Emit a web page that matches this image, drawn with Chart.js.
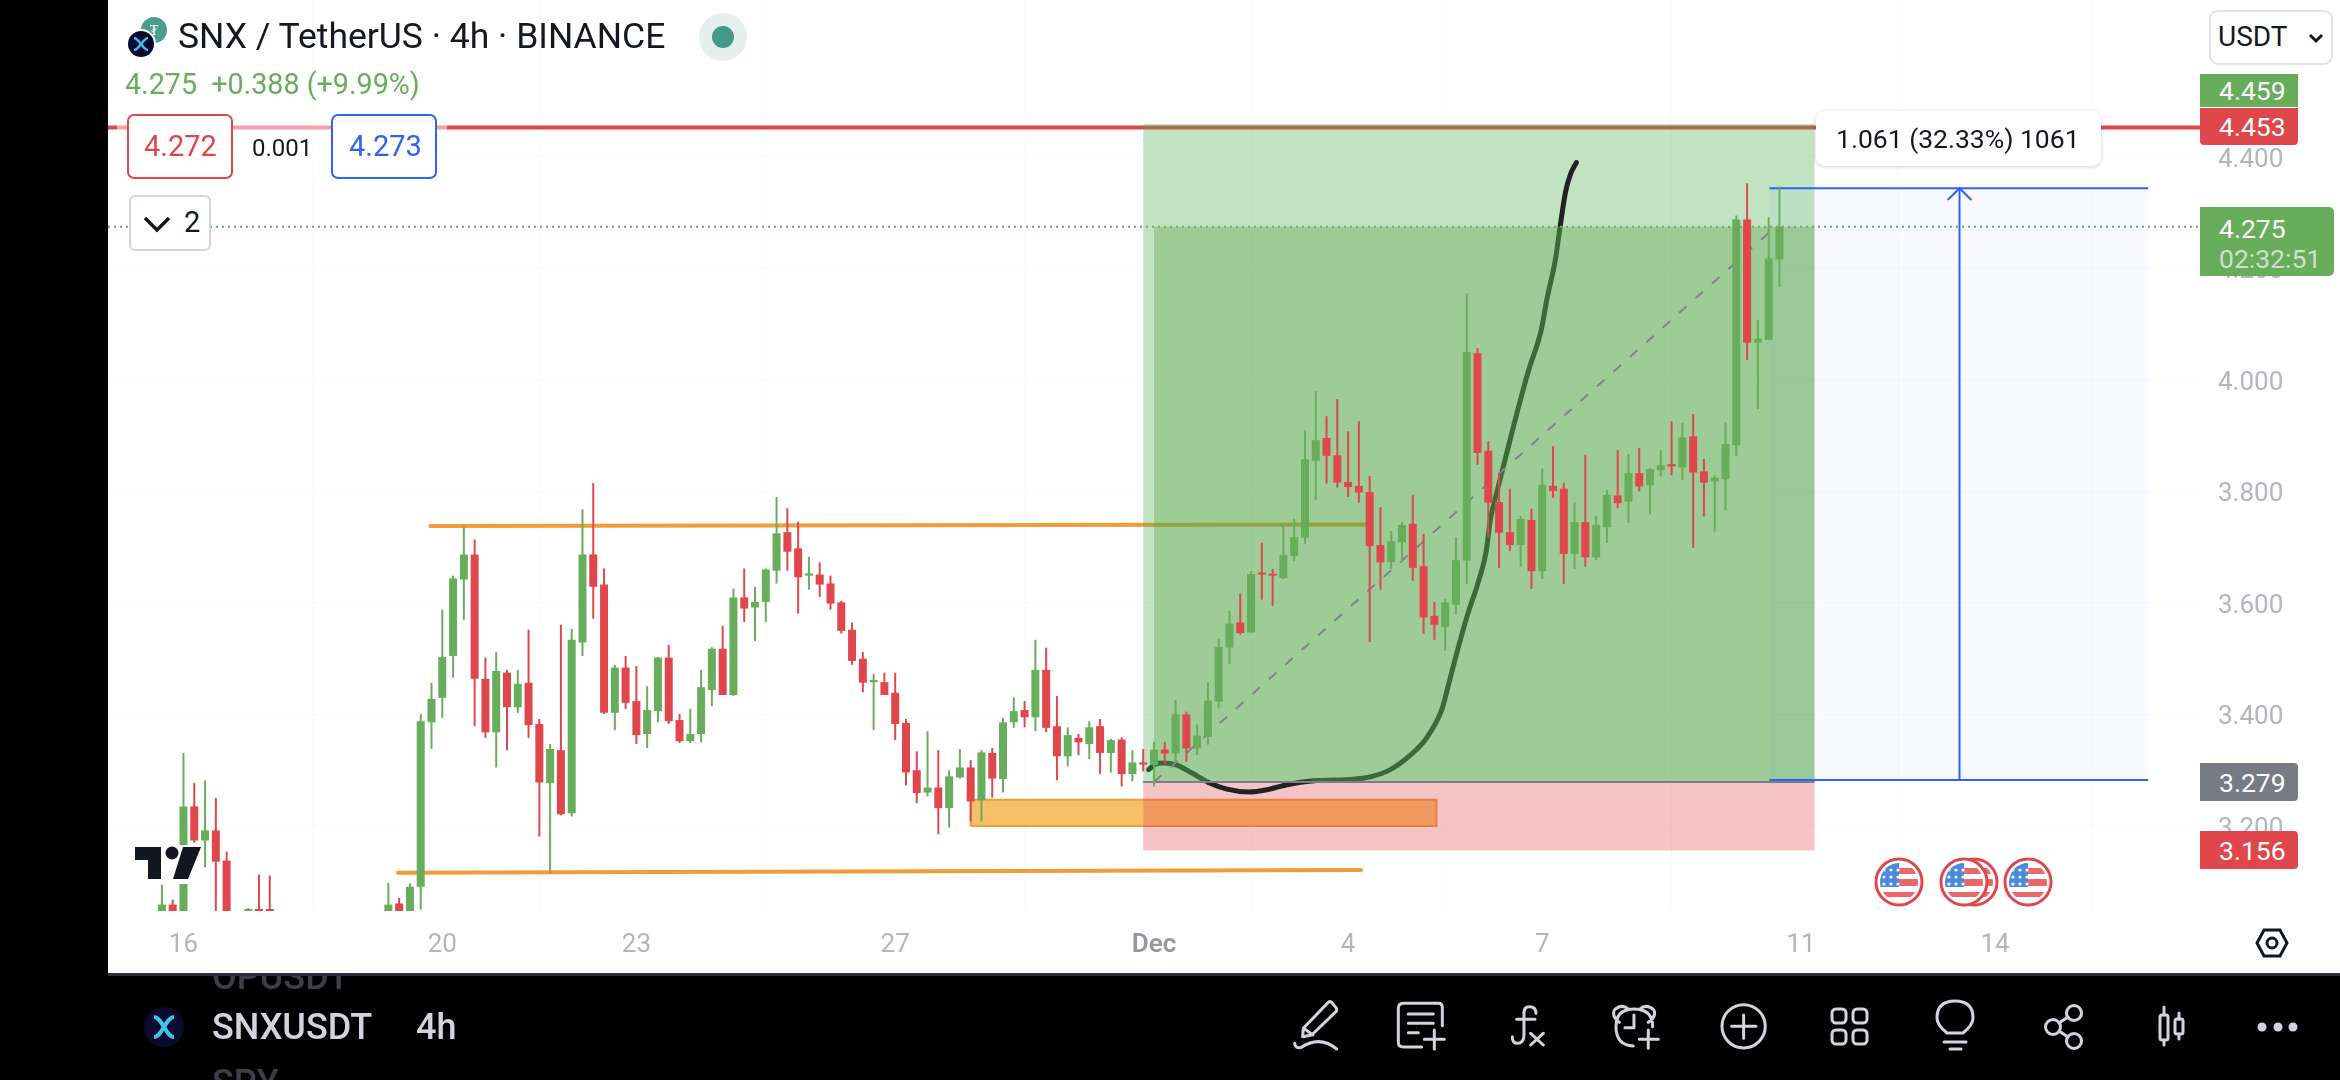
<!DOCTYPE html>
<html>
<head>
<meta charset="utf-8">
<title>SNX / TetherUS 4h</title>
<script src="https://cdn.jsdelivr.net/npm/chart.js@4"></script>
<style>
  html, body { margin: 0; padding: 0; background: #000; }
  body { position: relative; width: 2340px; height: 1080px; overflow: hidden; font-family: Roboto, sans-serif; }
  #pane { position: absolute; left: 108px; top: 0; width: 2232px; height: 973px; background: #fff; }
  #chart { position: absolute; left: 108px; top: 0; }
  #rule { position: absolute; left: 108px; top: 973px; width: 2232px; height: 3px; background: #2a2e39; }
  .t { position: absolute; white-space: nowrap; line-height: 1; }
  .box { position: absolute; box-sizing: border-box; background: #fff; }
  .tag { position: absolute; left: 2200px; width: 98px; box-sizing: border-box; color: #fff; font-size: 26.5px; padding-left: 19px; display: flex; align-items: center; }
  svg { position: absolute; overflow: visible; }
  #ghost { position: absolute; left: 0; top: 976px; width: 2340px; height: 104px; overflow: hidden; }
  .tool { fill: none; stroke: #d1d4dc; stroke-width: 3; stroke-linecap: round; stroke-linejoin: round; }
</style>
</head>
<body>
<div id="pane"></div>
<canvas id="chart" width="2232" height="973"></canvas>
<div id="rule"></div>

<!-- header -->
<svg style="left:0;top:0" width="760" height="70">
  <circle cx="154" cy="30" r="13" fill="#4b9e8e"/>
  <text x="154" y="35" font-size="14" font-family="Roboto" fill="#fff" text-anchor="middle">₮</text>
  <circle cx="141" cy="44" r="15" fill="#fff"/>
  <circle cx="141" cy="44" r="13" fill="#0a0b2e"/>
  <path d="M134 38 C139 38 143 50 148 50 M134 50 C139 50 143 38 148 38" fill="none" stroke="#3fc4e6" stroke-width="2.5"/>
  <circle cx="723" cy="37" r="24" fill="#e5efed"/>
  <circle cx="723" cy="37" r="11" fill="#439a8a"/>
</svg>
<div class="t" style="left:178px;top:19px;font-size:35.5px;color:#131722">SNX / TetherUS · 4h · BINANCE</div>
<div class="t" style="left:125px;top:70px;font-size:28.7px;color:#68ad5c">4.275&nbsp; +0.388 (+9.99%)</div>

<div class="box" style="left:117px;top:114px;width:330px;height:65px;background:rgba(255,255,255,.5)"></div>
<div class="box" style="left:127px;top:114px;width:106px;height:65px;border:2px solid #e0474c;border-radius:7px"></div>
<div class="t" style="left:144px;top:132px;font-size:29px;color:#e0474c">4.272</div>
<div class="t" style="left:252px;top:136px;font-size:24px;color:#131722">0.001</div>
<div class="box" style="left:331px;top:114px;width:106px;height:65px;border:2px solid #2f62f5;border-radius:7px"></div>
<div class="t" style="left:349px;top:132px;font-size:29px;color:#2f62f5">4.273</div>

<div class="box" style="left:129px;top:195px;width:82px;height:56px;border:2px solid #d1d4dc;border-radius:6px"></div>
<svg style="left:0;top:0" width="200" height="260"><path d="M145 218 L157 230 L169 218" fill="none" stroke="#131722" stroke-width="3.5"/></svg>
<div class="t" style="left:184px;top:208px;font-size:29px;color:#131722">2</div>

<div class="box" style="left:2209px;top:10px;width:124px;height:55px;border:2px solid #e0e3eb;border-radius:9px"></div>
<div class="t" style="left:2218px;top:23px;font-size:28px;color:#131722">USDT</div>
<svg style="left:2300px;top:0" width="40" height="60"><path d="M10 35 L16 41 L22 35" fill="none" stroke="#131722" stroke-width="3"/></svg>

<!-- measure label -->
<div class="box" style="left:1816px;top:111px;width:285px;height:55px;border-radius:9px;box-shadow:0 1px 4px rgba(0,0,0,.18)"></div>
<div class="t" style="left:1836px;top:126px;font-size:26.5px;color:#131722">1.061 (32.33%) 1061</div>

<!-- price tags -->
<div class="tag" style="top:74px;height:33px;background:#68ad5c">4.459</div>
<div class="tag" style="top:108px;height:37px;background:#e0474c;border-radius:0 0 4px 4px">4.453</div>
<div class="tag" style="top:207px;height:69px;width:134px;background:#68ad5c;border-radius:0 5px 5px 0;display:block;padding-top:6px">
  4.275<div style="color:rgba(255,255,255,.68);margin-top:-1px">02:32:51</div>
</div>
<div class="tag" style="top:763px;height:38px;background:#787b86;border-radius:0 4px 4px 0">3.279</div>
<div class="tag" style="top:831px;height:38px;background:#e0474c;border-radius:0 4px 4px 0">3.156</div>

<!-- logo -->
<div class="box" style="left:132px;top:845px;width:71px;height:39px;border-radius:8px"></div>
<svg style="left:0;top:0" width="220" height="900">
  <path d="M135 847 H161 V879 H148 V860 H135 Z" fill="#131722"/>
  <circle cx="172" cy="853" r="6.5" fill="#131722"/>
  <path d="M183 847 H201 L188 879 H173 Z" fill="#131722"/>
</svg>

<!-- event flags -->
<svg id="flags" style="left:0;top:0" width="2340" height="973"></svg>

<!-- settings hexagon -->
<svg style="left:2250px;top:925px" width="44" height="36">
  <path d="M7 18 L14 5 H30 L37 18 L30 31 H14 Z" fill="none" stroke="#131722" stroke-width="3"/>
  <circle cx="22" cy="18" r="5" fill="none" stroke="#131722" stroke-width="3"/>
</svg>

<!-- bottom bar -->
<div id="ghost">
  <div class="t" style="left:212px;top:-17px;font-size:36px;font-weight:500;color:#3c3f47">OPUSDT</div>
  <div class="t" style="left:212px;top:89px;font-size:36px;font-weight:500;color:#3c3f47">SPY</div>
</div>
<svg style="left:140px;top:1003px" width="50" height="50">
  <circle cx="24" cy="24" r="20" fill="#0a0b2e"/>
  <path d="M14 14 C22 14 26 34 34 34 M14 34 C22 34 26 14 34 14" fill="none" stroke="#3fc4e6" stroke-width="4"/>
</svg>
<div class="t" style="left:212px;top:1009px;font-size:36px;font-weight:500;color:#d1d4dc">SNXUSDT</div>
<div class="t" style="left:416px;top:1009px;font-size:36px;font-weight:500;color:#d1d4dc">4h</div>

<svg style="left:0;top:985px" width="2340" height="95" class="tool">
  <g transform="translate(1280 0) scale(0.3333)" stroke-width="9">
    <!-- pencil -->
    <path d="M70 130 L145 52 Q150 48 155 52 L168 68 Q172 74 168 80 L95 150 L68 155 Z M72 130 L98 150"/>
    <path d="M44 175 Q45 190 62 188 Q120 150 170 192"/>
    <!-- note -->
    <path d="M355 70 Q355 55 370 55 H475 Q487 55 487 68 V122 M355 70 V172 Q355 186 370 186 H425 M385 87 H460 M385 115 H460 M385 143 H415 M463 135 V192 M433 163 H493"/>
    <!-- fx -->
    <path d="M768 85 Q768 65 748 65 Q732 65 732 85 V150 Q732 175 712 175 Q697 175 697 155 M710 103 H765 M752 145 L790 180 M790 145 L752 180"/>
    <!-- alarm -->
    <path d="M1060 183 Q1008 180 1008 125 Q1008 72 1062 72 Q1118 72 1118 125 M1062 90 V128 H1035 M1018 112 Q995 95 1003 75 Q1025 55 1045 72 M1105 112 Q1130 95 1122 75 Q1100 55 1080 72 M1105 135 V190 M1078 163 H1135"/>
    <!-- plus -->
    <circle cx="1391" cy="124" r="65"/><path d="M1391 90 V160 M1355 124 H1428"/>
  </g>
  <!-- grid -->
  <rect x="1832" y="24" width="14" height="14" rx="4"/><rect x="1853" y="24" width="14" height="14" rx="4"/>
  <rect x="1832" y="45" width="14" height="14" rx="4"/><rect x="1853" y="45" width="14" height="14" rx="4"/>
  <!-- bulb -->
  <path d="M1947 48 Q1937 40 1937 33 Q1937 16 1955 16 Q1973 16 1973 33 Q1973 40 1963 48 Z M1944 57 H1966 M1950 64 H1961"/>
  <!-- share -->
  <circle cx="2074" cy="28" r="7.5"/><circle cx="2053" cy="42" r="7.5"/><circle cx="2074" cy="56" r="7.5"/><path d="M2059 38 L2068 32 M2059 46 L2068 52"/>
  <!-- candles -->
  <rect x="2160" y="30" width="8" height="25" rx="2"/><path d="M2164 22 V30 M2164 55 V60"/>
  <rect x="2175" y="34" width="8" height="15" rx="2"/><path d="M2179 28 V34 M2179 49 V54"/>
</svg>
<svg style="left:2250px;top:1015px" width="60" height="24">
  <circle cx="12" cy="12" r="4.5" fill="#d1d4dc"/><circle cx="28" cy="12" r="4.5" fill="#d1d4dc"/><circle cx="43" cy="12" r="4.5" fill="#d1d4dc"/>
</svg>

<script>
// SNX/USDT 4h candles. null = candle below the visible pane
const opens = [
  3.04, 3.059, 3.04, 3.235, 3.174, 3.192, 3.138, null, 3.04, 3.042,
  3.042, null, null, null, null, null, null, null, null, null,
  null, 3.04, 3.061, 3.04, 3.091, 3.386, 3.430, 3.505, 3.642, 3.687,
  3.464, 3.368, 3.475, 3.413, 3.457, 3.383, 3.277, 3.336, 3.223, 3.529,
  3.687, 3.633, 3.403, 3.484, 3.424, 3.365, 3.406, 3.502, 3.390, 3.352,
  3.365, 3.444, 3.518, 3.435, 3.610, 3.592, 3.602, 3.658, 3.727, 3.698,
  3.649, 3.651, 3.635, 3.601, 3.552, 3.500, 3.458, 3.458, 3.439, 3.385,
  3.300, 3.260, 3.269, 3.232, 3.287, 3.305, 3.246, 3.331, 3.284, 3.386,
  3.408, 3.395, 3.480, 3.379, 3.325, 3.358, 3.347, 3.379, 3.331, 3.355,
  3.293, 3.314, 3.309, 3.337, 3.330, 3.400, 3.339, 3.360, 3.423, 3.520,
  3.565, 3.547, 3.654, 3.652, 3.645, 3.684, 3.717, 3.855, 3.896, 3.865,
  3.817, 3.810, 3.799, 3.704, 3.673, 3.709, 3.742, 3.666, 3.577, 3.557,
  3.597, 3.676, 4.048, 3.873, 3.781, 3.727, 3.704, 3.749, 3.657, 3.810,
  3.805, 3.688, 3.745, 3.682, 3.736, 3.793, 3.782, 3.833, 3.811, 3.838,
  3.849, 3.843, 3.899, 3.836, 3.818, 3.822, 3.883, 4.288, 4.067, 4.072, 4.216,
];
const highs = [
  3.095, 3.068, 3.331, 3.277, 3.282, 3.250, 3.154, null, 3.053, 3.113,
  3.111, null, null, null, null, null, null, null, null, null,
  null, 3.098, 3.071, 3.097, 3.401, 3.457, 3.588, 3.649, 3.737, 3.714,
  3.502, 3.512, 3.480, 3.480, 3.552, 3.392, 3.347, 3.561, 3.554, 3.768,
  3.815, 3.662, 3.489, 3.505, 3.487, 3.451, 3.503, 3.525, 3.401, 3.410,
  3.480, 3.521, 3.559, 3.626, 3.662, 3.629, 3.662, 3.790, 3.770, 3.746,
  3.683, 3.673, 3.649, 3.604, 3.565, 3.512, 3.473, 3.475, 3.475, 3.392,
  3.334, 3.370, 3.336, 3.300, 3.338, 3.318, 3.336, 3.340, 3.394, 3.431,
  3.424, 3.534, 3.520, 3.433, 3.377, 3.365, 3.388, 3.392, 3.356, 3.359,
  3.336, 3.338, 3.351, 3.351, 3.426, 3.405, 3.382, 3.458, 3.535, 3.586,
  3.617, 3.657, 3.708, 3.661, 3.740, 3.751, 3.910, 3.980, 3.935, 3.966,
  3.908, 3.926, 3.828, 3.772, 3.729, 3.745, 3.794, 3.724, 3.602, 3.607,
  3.718, 4.156, 4.057, 3.890, 3.833, 3.805, 3.756, 3.769, 3.841, 3.881,
  3.816, 3.780, 3.866, 3.756, 3.803, 3.874, 3.867, 3.878, 3.842, 3.874,
  3.926, 3.923, 3.939, 3.858, 3.829, 3.924, 4.295, 4.353, 4.108, 4.292, 4.347,
];
const lows = [
  3.04, 3.04, 3.04, 3.170, 3.126, 3.04, 3.04, null, 3.04, 3.04,
  3.04, null, null, null, null, null, null, null, null, null,
  null, 3.04, 3.04, 3.04, 3.050, 3.338, 3.394, 3.466, 3.570, 3.379,
  3.358, 3.305, 3.336, 3.403, 3.358, 3.181, 3.115, 3.219, 3.217, 3.505,
  3.572, 3.401, 3.372, 3.410, 3.347, 3.340, 3.386, 3.383, 3.349, 3.349,
  3.350, 3.415, 3.435, 3.433, 3.566, 3.532, 3.566, 3.635, 3.658, 3.581,
  3.624, 3.611, 3.588, 3.545, 3.489, 3.440, 3.372, 3.435, 3.354, 3.273,
  3.241, 3.253, 3.185, 3.197, 3.285, 3.208, 3.208, 3.251, 3.260, 3.376,
  3.377, 3.370, 3.368, 3.282, 3.307, 3.327, 3.320, 3.293, 3.296, 3.271,
  3.280, 3.298, 3.271, 3.312, 3.314, 3.315, 3.327, 3.346, 3.411, 3.491,
  3.543, 3.547, 3.606, 3.595, 3.643, 3.675, 3.706, 3.785, 3.814, 3.807,
  3.790, 3.780, 3.530, 3.624, 3.661, 3.673, 3.640, 3.545, 3.534, 3.514,
  3.579, 3.634, 3.848, 3.718, 3.663, 3.693, 3.665, 3.625, 3.643, 3.789,
  3.634, 3.661, 3.665, 3.677, 3.708, 3.770, 3.744, 3.800, 3.759, 3.827,
  3.829, 3.820, 3.699, 3.755, 3.728, 3.766, 3.863, 4.036, 3.948, 4.072, 4.167,
];
const closes = [
  3.059, 3.04, 3.235, 3.174, 3.192, 3.136, 3.04, null, 3.042, 3.04,
  3.04, null, null, null, null, null, null, null, null, null,
  null, 3.059, 3.04, 3.091, 3.388, 3.428, 3.503, 3.644, 3.687, 3.464,
  3.368, 3.478, 3.413, 3.455, 3.381, 3.278, 3.338, 3.221, 3.534, 3.687,
  3.629, 3.403, 3.484, 3.421, 3.363, 3.408, 3.502, 3.388, 3.352, 3.365,
  3.449, 3.518, 3.435, 3.610, 3.590, 3.602, 3.660, 3.725, 3.692, 3.646,
  3.653, 3.633, 3.599, 3.550, 3.496, 3.457, 3.462, 3.435, 3.383, 3.296,
  3.259, 3.269, 3.232, 3.289, 3.305, 3.244, 3.332, 3.285, 3.386, 3.406,
  3.395, 3.480, 3.376, 3.325, 3.363, 3.350, 3.377, 3.331, 3.354, 3.293,
  3.314, 3.310, 3.337, 3.330, 3.400, 3.339, 3.362, 3.425, 3.521, 3.563,
  3.546, 3.652, 3.651, 3.649, 3.686, 3.718, 3.858, 3.892, 3.864, 3.816,
  3.808, 3.798, 3.702, 3.673, 3.711, 3.740, 3.663, 3.574, 3.561, 3.601,
  3.677, 4.050, 3.869, 3.780, 3.726, 3.704, 3.751, 3.657, 3.812, 3.801,
  3.688, 3.745, 3.682, 3.740, 3.794, 3.779, 3.833, 3.809, 3.840, 3.847,
  3.845, 3.897, 3.834, 3.816, 3.825, 3.885, 4.288, 4.067, 4.074, 4.218, 4.275,
];

// axis ticks
const xTickValues = [2, 26, 44, 68, 92, 110, 128, 152, 170];
const xTickLabels = ['16', '20', '23', '27', 'Dec', '4', '7', '11', '14'];
const yTickValues = [3.2, 3.4, 3.6, 3.8, 4.0, 4.2, 4.4];

// hand drawn curve
const curveX = [91.5, 92.12, 92.89, 94.13, 95.52, 97.06, 98.76, 100.77, 102.47, 104.33, 106.8, 110.51, 112.06, 113.91, 115.77, 117.32, 118.71, 119.33, 120.1, 121.03, 122.11, 122.79, 123.19, 123.81, 124.74, 125.66, 126.75, 127.89, 128.45, 129.22, 129.69, 130.15, 130.62, 131.17];
const curveY = [3.301, 3.311, 3.313, 3.309, 3.295, 3.278, 3.266, 3.261, 3.265, 3.274, 3.281, 3.284, 3.288, 3.301, 3.327, 3.359, 3.41, 3.455, 3.512, 3.576, 3.64, 3.691, 3.749, 3.8, 3.871, 3.941, 4.018, 4.088, 4.146, 4.216, 4.279, 4.336, 4.369, 4.39];

// price levels and drawings
const targetPrice = 4.459;
const bidLine = 4.453;
const lastPrice = 4.275;
const entryPrice = 3.279;
const stopPrice = 3.156;
const measureTop = 4.344;
const measureBottom = 3.2825;
const zoneX = [91, 153.25];
const fillX = [92, 153.25];
const measureX = [149.07, 184.2];
const arrowX = 166.7;
const dashX = [92, 149.2];
const dashY = [3.279, 4.267];
const orangeTopX = [24.9, 111.7];
const orangeTopY = [3.738, 3.741];
const orangeLowX = [21.9, 111.2];
const orangeLowY = [3.116, 3.121];
const orangeBoxX = [75, 118.2];
const orangeBoxY = [3.2, 3.247];

const GREEN = '#68ad5c';
const RED = '#e0474c';
const BLUE = '#2f62f5';
const ORANGE = '#f29b38';

const xMin = -5, xMax = 189;
const yMin = 3.0475, yMax = 4.6816;

// helpers
function segment(xs, ys, color, width, order, extra) {
  return {
    type: 'line', order, borderColor: color, borderWidth: width, pointRadius: 0, fill: false,
    data: xs.map((x, i) => ({ x, y: ys[i] })),
    ...extra,
  };
}
function rect(xs, ys, color, order, border) {
  return {
    type: 'line', order, backgroundColor: color, fill: 'shape', pointRadius: 0,
    borderColor: border || 'transparent', borderWidth: border ? 2 : 0,
    data: [
      { x: xs[0], y: ys[0] }, { x: xs[1], y: ys[0] }, { x: xs[1], y: ys[1] },
      { x: xs[0], y: ys[1] }, { x: xs[0], y: ys[0] },
    ],
  };
}
const isDec = (c) => c.tick && c.tick.value === 92;

// the curve reads dark green where it runs under the darker fill, near black elsewhere
function curveColor(ctx) {
  const p = ctx.p0.parsed.y;
  return (p > entryPrice && p < lastPrice) ? '#2e5238' : '#222';
}

// candles: one thin floating bar for the wick, one wide for the body
const wicks = [], bodies = [], candleColors = [];
opens.forEach((o, i) => {
  if (o === null) return;
  wicks.push({ x: i, y: [lows[i], highs[i]] });
  bodies.push({ x: i, y: [o, closes[i]] });
  candleColors.push(closes[i] >= o ? GREEN : RED);
});

new Chart(document.getElementById('chart'), {
  type: 'bar',
  data: {
    datasets: [
      // bottom layer, gets tinted by the zones
      segment(orangeTopX, orangeTopY, ORANGE, 4, 30, { borderCapStyle: 'round' }),
      segment(orangeLowX, orangeLowY, ORANGE, 4, 30, { borderCapStyle: 'round' }),
      rect(orangeBoxX, orangeBoxY, '#f6c069', 30, ORANGE),
      segment([xMin, xMax], [bidLine, bidLine], RED, 4, 30),
      // long position zones
      rect(zoneX, [entryPrice, targetPrice], 'rgba(76,175,80,0.35)', 20),
      rect(zoneX, [stopPrice, entryPrice], 'rgba(224,70,78,0.32)', 20),
      // curve sits between the light and the dark layer
      segment(curveX, curveY, '#222', 5, 15, {
        cubicInterpolationMode: 'monotone',
        borderCapStyle: 'round',
        segment: { borderColor: curveColor },
      }),
      rect(fillX, [entryPrice, lastPrice], 'rgba(83,157,61,0.33)', 10),
      // lines on top
      segment(zoneX, [entryPrice, entryPrice], '#7d7d85', 2, 8),
      segment(dashX, dashY, '#85808f', 2, 8, { borderDash: [10, 12] }),
      rect(measureX, [measureBottom, measureTop], 'rgba(41,98,255,0.03)', 8),
      segment(measureX, [measureTop, measureTop], BLUE, 2, 8),
      segment(measureX, [measureBottom, measureBottom], BLUE, 2, 8),
      segment([arrowX, arrowX], [measureBottom, measureTop], BLUE, 2, 8),
      segment([arrowX - 1.1, arrowX, arrowX + 1.1], [measureTop - 0.021, measureTop, measureTop - 0.021], BLUE, 2, 8),
      segment([xMin, xMax], [lastPrice, lastPrice], GREEN, 2, 5, { borderDash: [2, 4] }),
      // candles
      { data: wicks, backgroundColor: candleColors, barThickness: 2, grouped: false, order: 2, inflateAmount: 0 },
      { data: bodies, backgroundColor: candleColors, barThickness: 8, grouped: false, order: 1, minBarLength: 2, inflateAmount: 0 },
    ],
  },
  options: {
    responsive: false,
    animation: false,
    devicePixelRatio: 1,
    events: [],
    layout: { autoPadding: false, padding: 0 },
    plugins: { legend: { display: false }, tooltip: { enabled: false } },
    scales: {
      x: {
        type: 'linear',
        offset: false,
        min: xMin,
        max: xMax,
        border: { display: false },
        grid: { color: '#f8f9fb', drawTicks: false },
        afterBuildTicks: (s) => { s.ticks = xTickValues.map(value => ({ value })); },
        afterFit: (s) => { s.height = 62; s.paddingLeft = 0; s.paddingRight = 0; },
        ticks: {
          autoSkip: false,
          maxRotation: 0,
          padding: 19,
          color: (c) => (isDec(c) ? '#9598a1' : '#b2b5be'),
          font: (c) => ({ family: 'Roboto', size: 26, weight: isDec(c) ? '600' : '400' }),
          callback: (v) => xTickLabels[xTickValues.indexOf(v)],
        },
      },
      y: {
        type: 'linear',
        position: 'right',
        min: yMin,
        max: yMax,
        border: { display: false },
        grid: { color: '#f8f9fb', drawTicks: false },
        afterBuildTicks: (s) => { s.ticks = yTickValues.map(value => ({ value })); },
        // the scale reserves room for half a label above the plot, the pane has none
        afterFit: (s) => { s.width = 140; s.paddingTop = 0; s.paddingBottom = 0; },
        ticks: {
          padding: 18,
          labelOffset: 3.5,
          color: '#b2b5be',
          font: { family: 'Roboto', size: 26 },
          callback: (v) => v.toFixed(3),
        },
      },
    },
  },
});

// --- event flags ---
const flagCenters = [1899, 1974, 1964, 2028];
let flagsHtml = '';
flagCenters.forEach((cx, n) => {
  const cy = 882;
  let stars = '';
  for (let r = 0; r < 3; r++) {
    for (let c = 0; c < 3; c++) {
      stars += `<circle cx="${cx - 15 + c * 7}" cy="${cy - 12 + r * 7}" r="1.6" fill="#fff"/>`;
    }
  }
  flagsHtml += `<clipPath id="f${n}"><circle cx="${cx}" cy="${cy}" r="19"/></clipPath>
    <circle cx="${cx}" cy="${cy}" r="23" fill="#fff" stroke="#e0474c" stroke-width="3"/>
    <g clip-path="url(#f${n})">
      <rect x="${cx - 19}" y="${cy - 19}" width="38" height="38" fill="#fff"/>
      <rect x="${cx}" y="${cy - 14}" width="19" height="6" fill="#e8686c"/>
      <rect x="${cx}" y="${cy - 3}" width="19" height="7" fill="#e8686c"/>
      <rect x="${cx - 19}" y="${cy + 10}" width="38" height="5" fill="#e8686c"/>
      <rect x="${cx - 19}" y="${cy - 19}" width="19" height="24" fill="#4a8be0"/>
      ${stars}
    </g>`;
});
document.getElementById('flags').innerHTML = flagsHtml;
</script>
</body>
</html>
